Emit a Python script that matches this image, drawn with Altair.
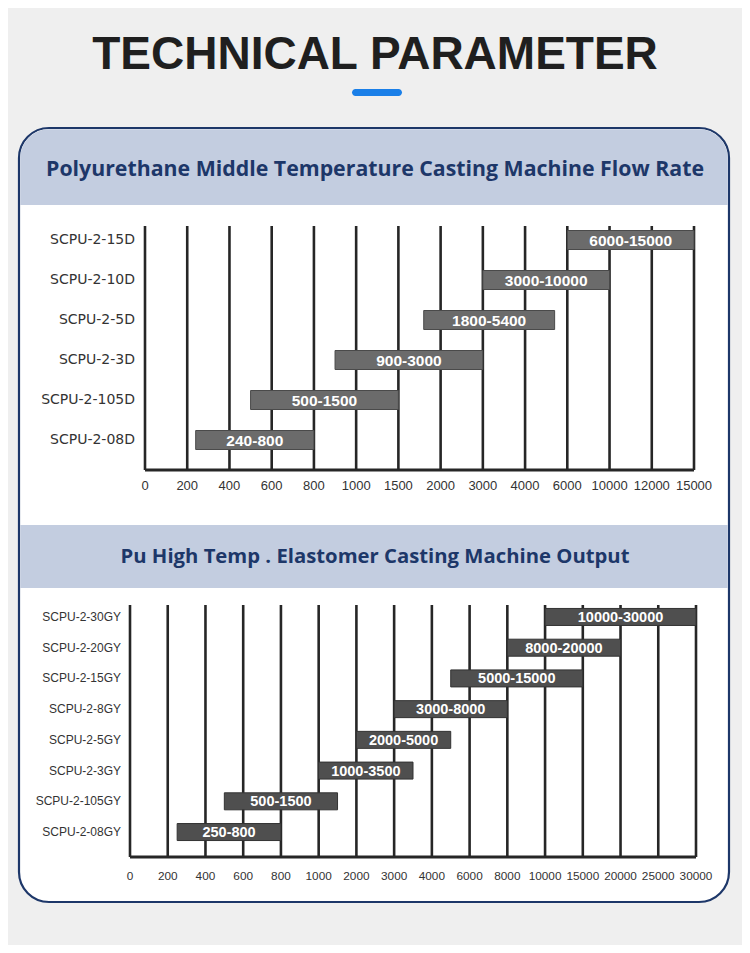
import altair as alt
import numpy as np
import pandas as pd

# ---------------- data ----------------
models1 = ["SCPU-2-15D", "SCPU-2-10D", "SCPU-2-5D", "SCPU-2-3D", "SCPU-2-105D", "SCPU-2-08D"]
low1 = [6000, 3000, 1800, 900, 500, 240]
high1 = [15000, 10000, 5400, 3000, 1500, 800]
ticks1 = [0, 200, 400, 600, 800, 1000, 1500, 2000, 3000, 4000, 6000, 10000, 12000, 15000]

models2 = ["SCPU-2-30GY", "SCPU-2-20GY", "SCPU-2-15GY", "SCPU-2-8GY", "SCPU-2-5GY",
           "SCPU-2-3GY", "SCPU-2-105GY", "SCPU-2-08GY"]
low2 = [10000, 8000, 5000, 3000, 2000, 1000, 500, 250]
high2 = [30000, 20000, 15000, 8000, 5000, 3500, 1500, 800]
ticks2 = [0, 200, 400, 600, 800, 1000, 2000, 3000, 4000, 6000, 8000, 10000, 15000, 20000, 25000, 30000]

main_title = "TECHNICAL PARAMETER"
title1 = "Polyurethane Middle Temperature Casting Machine Flow Rate"
title2 = "Pu High Temp . Elastomer Casting Machine Output"

# ---------------- layout (chart pixel space) ----------------
W, H = 734, 937
NAVY = "#1d3769"
BAND = "#c3cde0"


def mid_values(lo, hi, ticks):
    idx = np.arange(len(ticks))
    a = np.interp(lo, ticks, idx)
    b = np.interp(hi, ticks, idx)
    return np.interp((a + b) / 2, idx, ticks)


def panel(models, lo, hi, ticks, x0, x1, ytop, ybot, gtop, gbot, ylab_x, tick_y,
          bar_size, bar_fill, bar_stroke, bar_font, ylab_font, ylab_family, tick_font):
    xs = alt.Scale(domain=ticks, range=[float(v) for v in np.linspace(x0, x1, len(ticks))],
                   nice=False, zero=False)
    ys = alt.Scale(type="band", domain=models, range=[ytop, ybot], paddingInner=0, paddingOuter=0)
    bars = pd.DataFrame({
        "model": models, "lo": lo, "hi": hi,
        "label": [f"{a}-{b}" for a, b in zip(lo, hi)],
        "mid": mid_values(np.array(lo), np.array(hi), ticks),
    })
    tk = pd.DataFrame({"t": ticks, "lab": [str(t) for t in ticks]})
    ax = pd.DataFrame({"a": [ticks[0]], "b": [ticks[-1]]})

    grid = alt.Chart(tk).mark_rule(color="#262626", strokeWidth=2.6).encode(
        x=alt.X("t:Q", scale=xs, axis=None),
        y=alt.value(gtop), y2=alt.value(gbot))
    baseline = alt.Chart(ax).mark_rule(color="#262626", strokeWidth=3.2).encode(
        x=alt.X("a:Q", scale=xs, axis=None), x2="b:Q", y=alt.value(gbot))
    barl = alt.Chart(bars).mark_bar(size=bar_size, color=bar_fill, stroke=bar_stroke,
                                    strokeWidth=1).encode(
        x=alt.X("lo:Q", scale=xs, axis=None), x2="hi:Q",
        y=alt.Y("model:N", scale=ys, axis=None))
    blab = alt.Chart(bars).mark_text(color="white", fontWeight="bold", fontSize=bar_font,
                                     font="Liberation Sans", baseline="middle", dy=1).encode(
        x=alt.X("mid:Q", scale=xs, axis=None),
        y=alt.Y("model:N", scale=ys, axis=None), text="label:N")
    tlab = alt.Chart(tk).mark_text(color="#333333", fontSize=tick_font, font="Liberation Sans",
                                   baseline="middle").encode(
        x=alt.X("t:Q", scale=xs, axis=None), y=alt.value(tick_y), text="lab:N")
    ylab = alt.Chart(bars).mark_text(color="#333333", fontSize=ylab_font, font=ylab_family,
                                     align="right", baseline="middle").encode(
        x=alt.value(ylab_x), y=alt.Y("model:N", scale=ys, axis=None), text="model:N")
    return [grid, baseline, barl, blab, tlab, ylab]


one = pd.DataFrame({"k": [0]})

box = alt.Chart(one).mark_rect(fill="white", stroke=NAVY, strokeWidth=2.2, cornerRadius=30).encode(
    x=alt.value(11), x2=alt.value(721), y=alt.value(120), y2=alt.value(894))
head1 = alt.Chart(one).mark_rect(fill=BAND, cornerRadiusTopLeft=29, cornerRadiusTopRight=29).encode(
    x=alt.value(12.2), x2=alt.value(719.8), y=alt.value(121.2), y2=alt.value(197))
head2 = alt.Chart(one).mark_rect(fill=BAND).encode(
    x=alt.value(12.2), x2=alt.value(719.8), y=alt.value(517), y2=alt.value(580))
t1 = alt.Chart(one).mark_text(text=title1, font="Open Sans", fontWeight="bold", fontSize=21.3,
                              color=NAVY, baseline="middle").encode(
    x=alt.value(367), y=alt.value(162))
t2 = alt.Chart(one).mark_text(text=title2, font="Open Sans", fontWeight="bold", fontSize=20.3,
                              color=NAVY, baseline="middle").encode(
    x=alt.value(367), y=alt.value(549))
tmain = alt.Chart(one).mark_text(text=main_title, font="Liberation Sans", fontWeight="bold",
                                 fontSize=46, color="#1f1f1f", baseline="alphabetic").encode(
    x=alt.value(367), y=alt.value(61))
uline = alt.Chart(one).mark_rect(fill="#1a7fe8", cornerRadius=3.5).encode(
    x=alt.value(344), x2=alt.value(394), y=alt.value(81), y2=alt.value(88))

p1 = panel(models1, low1, high1, ticks1, 137, 686, 212, 452, 218, 462, 127, 478,
           19, "#6b6b6b", "#4a4a4a", 15.5, 14, "DejaVu Sans", 13)
p2 = panel(models2, low2, high2, ticks2, 122, 688, 593.6, 839.4, 597, 849, 113, 868,
           17, "#4f4f4f", "#333333", 14.5, 12, "Liberation Sans", 11.8)

chart = alt.layer(box, head1, head2, t1, t2, tmain, uline, *p1, *p2).resolve_scale(
    x="independent", y="independent"
).properties(
    width=W, height=H, padding=0, background="#efefef",
    autosize=alt.AutoSizeParams(type="none")
).configure_view(stroke=None)

chart.save("out.html", embed_options={"renderer": "svg", "actions": False})
